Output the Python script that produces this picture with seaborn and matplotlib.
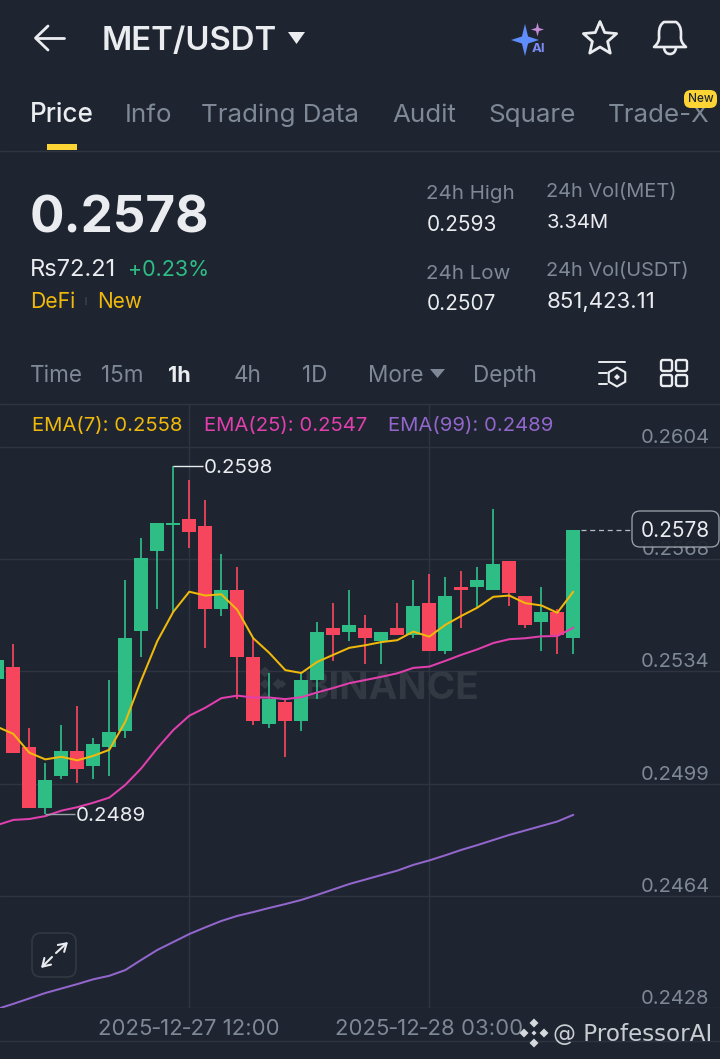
import numpy as np
import matplotlib
matplotlib.use("Agg")
import matplotlib.pyplot as plt
import seaborn as sns
from matplotlib.patches import FancyBboxPatch, Polygon, PathPatch, Rectangle
from matplotlib.path import Path

# candles, oldest first (the first one is cut by the left edge)
candle_idx = list(range(-1, 36))
opens = [.25312, .25349, .25098, .24907, .25008, .25087, .25038, .25099, .25149, .25462,
         .25714, .25794, .25813, .25793, .25532, .25591, .25380, .25170, .25239, .25180,
         .25310, .25471, .25461, .25471, .25430, .25471, .25451, .25552, .25401, .25602,
         .25602, .25592, .25682, .25572, .25491, .25521, .25442]
closes = [.25372, .25079, .24907, .24996, .25087, .25029, .25107, .25147, .25440, .25693,
          .25803, .25803, .25774, .25532, .25591, .25381, .25180, .25249, .25180, .25309,
          .25461, .25451, .25481, .25441, .25461, .25451, .25541, .25401, .25572, .25592,
          .25622, .25672, .25582, .25482, .25521, .25451, .25780]
highs = [.25372, .25422, .25158, .25048, .25168, .25228, .25128, .25309, .25623, .25754,
         .25803, .25980, .25936, .25874, .25703, .25664, .25441, .25330, .25246, .25331,
         .25490, .25552, .25591, .25512, .25461, .25552, .25623, .25642, .25631, .25652,
         .25663, .25845, .25682, .25572, .25602, .25531, .25780]
lows = [.25312, .25079, .24907, .24890, .24998, .24987, .24998, .25008, .25128, .25380,
        .25532, .25523, .25723, .25410, .25511, .25249, .25168, .25159, .25068, .25148,
        .25249, .25370, .25430, .25360, .25360, .25451, .25441, .25401, .25391, .25471,
        .25539, .25592, .25542, .25471, .25401, .25391, .25391]

ema7 = [.25162, .25140, .25081, .25060, .25068, .25057, .25071, .25090, .25178, .25309,
        .25431, .25523, .25586, .25574, .25578, .25529, .25440, .25394, .25340, .25331,
        .25366, .25388, .25410, .25418, .25428, .25434, .25461, .25445, .25482, .25510,
        .25536, .25570, .25574, .25550, .25543, .25520, .25586]
ema25 = [.24854, .24870, .24873, .24882, .24899, .24910, .24924, .24940, .24980, .25032,
         .25095, .25152, .25197, .25222, .25252, .25260, .25254, .25254, .25249, .25255,
         .25270, .25284, .25299, .25309, .25319, .25330, .25347, .25351, .25369, .25388,
         .25405, .25425, .25437, .25440, .25446, .25447, .25473]
ema99 = [.24277, .24293, .24310, .24327, .24341, .24355, .24370, .24381, .24399, .24431,
         .24462, .24487, .24512, .24533, .24553, .24569, .24581, .24594, .24606, .24619,
         .24635, .24652, .24669, .24683, .24697, .24711, .24729, .24743, .24759, .24776,
         .24791, .24807, .24823, .24837, .24851, .24865, .24886]

grid_prices = [.26040, .25689, .25337, .24983, .24631, .24280]
price_labels = ["0.2604", "0.2568", "0.2534", "0.2499", "0.2464", "0.2428"]
date_idx = [11, 26]
date_labels = ["2025\u201112\u201127 12:00", "2025\u201112\u201128 03:00"]

BG = "#1e2530"
GRID = "#2e3540"
GREEN = "#2ebd85"
RED = "#f6465d"
WHITE = "#eaecef"
GREY = "#7f8896"
YELLOW = "#f0b90b"
PINK = "#e23fae"
PURPLE = "#9266cc"

sns.set_theme(style="dark", rc={"figure.facecolor": BG, "axes.facecolor": BG})
plt.rcParams["font.family"] = ["Inter", "DejaVu Sans"]

fig = plt.figure(figsize=(7.2, 10.59), dpi=100)
H = 1059

# chart area: px 405 to 1008 vertically, candle spacing 16 px
ax = fig.add_axes([0, (H - 1008) / H, 1, (1008 - 405) / H])
ui = fig.add_axes([0, 0, 1, 1], zorder=5)
ui.set_xlim(0, 720)
ui.set_ylim(H, 0)
ui.axis("off")
ui.patch.set_alpha(0)

ax.set_xlim(-13.3 / 16, (720 - 13.3) / 16)
ax.set_ylim(.2428, .2604 + 42 / 31875)
for s in ax.spines.values():
    s.set_visible(False)
ax.set_yticks(grid_prices)
ax.set_yticklabels(price_labels, ha="right", va="bottom", color=GREY, fontsize=14.5)
ax.yaxis.tick_right()
ax.tick_params(axis="y", length=0, pad=-7.5)
ax.set_xticks(date_idx)
ax.set_xticklabels(date_labels, color=GREY, fontsize=15.9)
ax.tick_params(axis="x", length=0, pad=8)
ax.grid(True, color=GRID, lw=1.0)
ax.set_axisbelow(True)
ui.plot([0, 720], [404, 404], color=GRID, lw=1.0, zorder=0)
ui.plot([0, 720], [1041, 1041], color=GRID, lw=1.0, zorder=0)
ui.plot([0, 720], [151, 151], color=GRID, lw=1.0, zorder=0)


def diamond(target, x, y, r, color, zorder=1):
    target.add_patch(Polygon([(x - r, y), (x, y - r), (x + r, y), (x, y + r)], closed=True,
                             facecolor=color, edgecolor="none", zorder=zorder,
                             transform=ui.transData))


# BINANCE watermark sits behind the candles
ax.text(304, 699, "BINANCE", transform=ui.transData, color="#333943", fontsize=27.8,
        fontweight="bold", zorder=0.6)
for dx, dy in [(0, -12), (-13, 0), (13, 0), (0, 13)]:
    diamond(ax, 265 + dx, 684 + dy, 5.5, "#333943", zorder=0.6)
diamond(ax, 265, 684, 5, "#333943", zorder=0.6)
diamond(ax, 250, 684, 4, "#333943", zorder=0.6)
diamond(ax, 282, 684, 4, "#333943", zorder=0.6)

# candles
idx = np.array(candle_idx)
o, c = np.array(opens), np.array(closes)
cols = [GREEN if b >= a else RED for a, b in zip(o, c)]
ax.vlines(idx, lows, highs, colors=cols, lw=1.25, zorder=2)
ax.bar(idx, np.maximum(np.abs(c - o), .00008), bottom=np.minimum(o, c), width=.875,
       color=cols, linewidth=0, zorder=2.1)

sns.lineplot(x=idx, y=ema99, ax=ax, color=PURPLE, linewidth=1.45, zorder=3, legend=False)
sns.lineplot(x=idx, y=ema25, ax=ax, color=PINK, linewidth=1.45, zorder=3, legend=False)
sns.lineplot(x=idx, y=ema7, ax=ax, color=YELLOW, linewidth=1.45, zorder=3.1, legend=False)
ax.set_xlabel("")
ax.set_ylabel("")

# high and low markers
hi_i = int(np.argmax(highs))
lo_i = int(np.argmin(lows))
ax.hlines(highs[hi_i], candle_idx[hi_i], candle_idx[hi_i] + 30 / 16, color=WHITE, lw=1, zorder=4)
ax.hlines(lows[lo_i], candle_idx[lo_i], candle_idx[lo_i] + 30 / 16, color="#9aa0a8", lw=1, zorder=4)
ax.annotate("0.2598", xy=(candle_idx[hi_i], highs[hi_i]), xytext=(22, -1.5),
            textcoords="offset points", color=WHITE, fontsize=14.8, va="center", zorder=4)
ax.annotate("0.2489", xy=(candle_idx[lo_i], lows[lo_i]), xytext=(22, -1.5),
            textcoords="offset points", color=WHITE, fontsize=14.8, va="center", zorder=4)

# last price line
last = closes[-1]
ax.plot([candle_idx[-1] + .45, (632 - 13.3) / 16], [last, last], color="#b7bdc6", lw=0.9,
        ls=(0, (4, 3)), zorder=4)
ui.add_patch(FancyBboxPatch((632, 511), 87, 36, boxstyle="round,pad=0,rounding_size=8",
                            facecolor=BG, edgecolor="#aab0b8", lw=0.9, alpha=.93))


def label(x, y, s, color=WHITE, size=15, weight="normal", ha="left", **kw):
    ui.text(x, y, s, color=color, fontsize=size, fontweight=weight, ha=ha, va="baseline", **kw)


label(641, 537, "0.2578", WHITE, 15)

# header
label(102, 50, "MET/USDT", WHITE, 23.7, "semibold")
ui.add_patch(Polygon([(288, 32), (305, 32), (296.5, 44)], closed=True, facecolor=WHITE, edgecolor="none"))
ui.plot([36, 64], [38, 38], color=WHITE, lw=2, solid_capstyle="round")
ui.plot([48, 35.5, 48], [26, 38, 50], color=WHITE, lw=2, solid_capstyle="round", solid_joinstyle="round")

# star
ang = np.deg2rad(-90 + 36 * np.arange(10))
rad = np.where(np.arange(10) % 2 == 0, 17.5, 8)
ui.add_patch(Polygon(np.c_[600 + rad * np.cos(ang), 39 + rad * np.sin(ang)], closed=True,
                     facecolor="none", edgecolor=WHITE, lw=2, joinstyle="round"))

# bell
bell = Path([(654, 47), (660, 42), (659, 36), (659, 33), (659, 25), (664, 22), (670, 22),
             (676, 22), (681, 25), (681, 33), (681, 36), (680, 42), (686, 47), (654, 47)],
            [Path.MOVETO, Path.CURVE3, Path.CURVE3, Path.LINETO, Path.CURVE3, Path.CURVE3, Path.CURVE3,
             Path.CURVE3, Path.CURVE3, Path.CURVE3, Path.LINETO, Path.CURVE3, Path.CURVE3, Path.CLOSEPOLY])
ui.add_patch(PathPatch(bell, facecolor="none", edgecolor=WHITE, lw=1.9, joinstyle="round"))
ui.add_patch(PathPatch(Path([(664, 48), (665, 54), (670, 54), (675, 54), (676, 48)],
                            [Path.MOVETO, Path.CURVE3, Path.CURVE3, Path.CURVE3, Path.CURVE3]),
                       facecolor="none", edgecolor=WHITE, lw=1.9))


def sparkle(x, y, rx, ry, color):
    k = .22
    ui.add_patch(Polygon([(x - rx, y), (x - rx * k, y - ry * k), (x, y - ry), (x + rx * k, y - ry * k),
                          (x + rx, y), (x + rx * k, y + ry * k), (x, y + ry), (x - rx * k, y + ry * k)],
                         closed=True, facecolor=color, edgecolor="none"))


sparkle(525, 40, 14, 16, "#5f8dfb")
sparkle(537.5, 29.5, 6.5, 7, "#c58bd8")
label(532, 52.5, "AI", "#7d8cf5", 9.5, "bold")

# tabs
label(30, 122, "Price", WHITE, 18.8, "medium")
for x, s in zip([125, 201, 392, 488, 608], ["Info", "Trading Data", "Audit", "Square", "Trade-X"]):
    label(x, 122, s, GREY, 18.7)
ui.add_patch(Rectangle((47, 144), 30, 6, facecolor="#fcd535", edgecolor="none"))
ui.add_patch(FancyBboxPatch((684, 90), 33, 18, boxstyle="round,pad=0,rounding_size=7",
                            facecolor="#fcd535", edgecolor="none", zorder=3))
ui.text(700.5, 99.5, "New", color="#1e2530", fontsize=8.5, fontweight="medium", ha="center",
        va="center", zorder=4)

# price block
label(30, 232.7, "0.2578", WHITE, 36.8, "bold")
label(30, 275.7, "Rs72.21", WHITE, 17)
label(128.5, 275.7, "+0.23%", GREEN, 15.5)
label(30, 308, "DeFi", YELLOW, 15.2)
label(97, 308, "New", YELLOW, 15)
ui.add_patch(Rectangle((85, 297), 2, 8, facecolor="#333943", edgecolor="none"))

label(426.5, 199, "24h High", GREY, 14.8)
label(426.5, 230.7, "0.2593", WHITE, 15)
label(426.5, 279, "24h Low", GREY, 14.8)
label(426.5, 310, "0.2507", WHITE, 15)
label(546.5, 197, "24h Vol(MET)", GREY, 14.4)
label(546.5, 228, "3.34M", WHITE, 14.6)
label(546.5, 276, "24h Vol(USDT)", GREY, 14.4)
label(546.5, 307.7, "851,423.11", WHITE, 16)

# interval bar
for x, s in zip([30, 101, 234, 302, 368, 473], ["Time", "15m", "4h", "1D", "More", "Depth"]):
    label(x, 381.7, s, GREY, 16.2)
label(168, 381.7, "1h", WHITE, 15.5, "bold")
ui.add_patch(Polygon([(430, 369), (445, 369), (437.5, 378)], closed=True, facecolor=GREY, edgecolor="none"))

ui.plot([599, 625], [362, 362], color=WHITE, lw=1.4)
ui.plot([599, 607], [373, 373], color=WHITE, lw=1.4)
ui.plot([599, 607], [384, 384], color=WHITE, lw=1.4)
hex_ang = np.deg2rad(-90 + 60 * np.arange(6))
ui.add_patch(Polygon(np.c_[617 + 9.5 * np.cos(hex_ang), 377 + 9.5 * np.sin(hex_ang)], closed=True,
                     facecolor="none", edgecolor=WHITE, lw=1.5))
diamond(ui, 617, 377, 3, WHITE, zorder=3)
for x, y in [(661, 360), (676, 360), (661, 375), (676, 375)]:
    ui.add_patch(FancyBboxPatch((x, y), 11, 11, boxstyle="round,pad=0,rounding_size=2",
                                facecolor="none", edgecolor=WHITE, lw=1.7))

# EMA header
label(32, 431, "EMA(7): 0.2558", YELLOW, 14.6)
label(204, 431, "EMA(25): 0.2547", PINK, 14.6)
label(388, 431, "EMA(99): 0.2489", PURPLE, 14.6)

# expand button
ui.add_patch(FancyBboxPatch((32, 933), 44, 44, boxstyle="round,pad=0,rounding_size=9",
                            facecolor=BG, edgecolor="#333943", lw=1.2))
for p, q in [((56, 953), (68, 942)), ((52, 957), (41, 968))]:
    ui.annotate("", xy=q, xytext=p, arrowprops=dict(arrowstyle="->,head_length=.45,head_width=.28",
                                                   color=WHITE, lw=1.5, shrinkA=0, shrinkB=0))

# repost watermark
for dx, dy in [(0, -10), (-10, 0), (10, 0), (0, 10)]:
    diamond(ui, 534 + dx, 1033 + dy, 4.5, "#d5d8dc", zorder=3)
diamond(ui, 534, 1033, 2.5, "#d5d8dc", zorder=3)
ui.text(553, 1041, "@ ProfessorAI", color="#c9cdd2", fontsize=16.6, family="DejaVu Sans",
        ha="left", va="baseline")

fig.savefig("out.png", dpi=100, facecolor=BG)
